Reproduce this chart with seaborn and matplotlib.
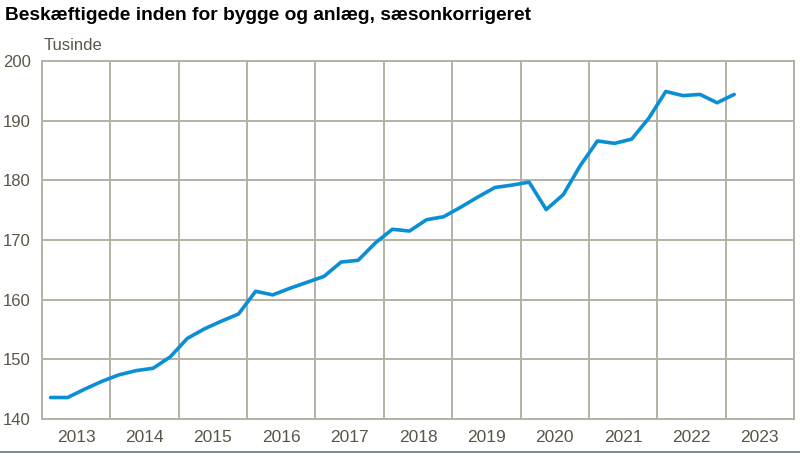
import numpy as np
import pandas as pd
import seaborn as sns
import matplotlib.pyplot as plt
from matplotlib.ticker import FixedLocator

# Quarterly employment, construction (thousands), seasonally adjusted
years = [2013] * 4 + [2014] * 4 + [2015] * 4 + [2016] * 4 + [2017] * 4 + \
        [2018] * 4 + [2019] * 4 + [2020] * 4 + [2021] * 4 + [2022] * 4 + [2023]
quarters = [1, 2, 3, 4] * 10 + [1]
employed = [143.6, 143.6, 145.0, 146.3,
            147.4, 148.1, 148.5, 150.4,
            153.5, 155.1, 156.4, 157.6,
            161.4, 160.8, 161.9, 162.9,
            163.9, 166.3, 166.6, 169.5,
            171.8, 171.5, 173.4, 173.9,
            175.5, 177.2, 178.8, 179.2,
            179.7, 175.1, 177.6, 182.5,
            186.6, 186.2, 186.9, 190.4,
            194.9, 194.2, 194.4, 193.0,
            194.4]
year_labels = [str(y) for y in range(2013, 2024)]
y_ticks = [140, 150, 160, 170, 180, 190, 200]

df = pd.DataFrame({"year": years, "quarter": quarters, "employed": employed})
df["t"] = df["year"] + (df["quarter"] - 0.5) / 4

sns.set_style("white")
plt.rcParams['font.family'] = ['Liberation Sans', 'DejaVu Sans']

grid_col = "#b4b1a5"
text_col = "#5b5548"

fig = plt.figure(figsize=(8, 4.57), dpi=100)
ax = fig.add_axes([0.0525, 0.0832, 0.94, 0.7833])

sns.lineplot(data=df, x="t", y="employed", ax=ax, color="#0a8fd6", linewidth=2.6)

ax.set_xlim(2013, 2024)
ax.set_ylim(140, 200)
ax.xaxis.set_major_locator(FixedLocator(range(2013, 2025)))
ax.xaxis.set_minor_locator(FixedLocator([y + 0.5 for y in range(2013, 2024)]))
ax.set_xticklabels([], minor=False)
ax.set_xticklabels(year_labels, minor=True)
ax.set_yticks(y_ticks)
ax.set_yticklabels([str(v) for v in y_ticks])
ax.tick_params(axis="both", which="both", length=0, labelsize=12.5, colors=text_col)
ax.tick_params(axis="x", which="minor", pad=8)
ax.tick_params(axis="y", labelsize=12, pad=8)
ax.grid(True, which="major", color=grid_col, linewidth=1.4)
for s in ax.spines.values():
    s.set_color(grid_col)
    s.set_linewidth(1.4)
ax.set_xlabel("")
ax.set_ylabel("")

fig.text(0.054, 0.9, "Tusinde", fontsize=12, color=text_col, ha="left", va="center")
fig.text(0.006, 0.967, "Beskæftigede inden for bygge og anlæg, sæsonkorrigeret",
         fontsize=13.8, fontweight="bold", color="black", ha="left", va="center")
fig.add_artist(plt.Line2D([0, 1], [0.011, 0.011], color="#5f7584", linewidth=1.2))

fig.savefig("out.png", dpi=100)
